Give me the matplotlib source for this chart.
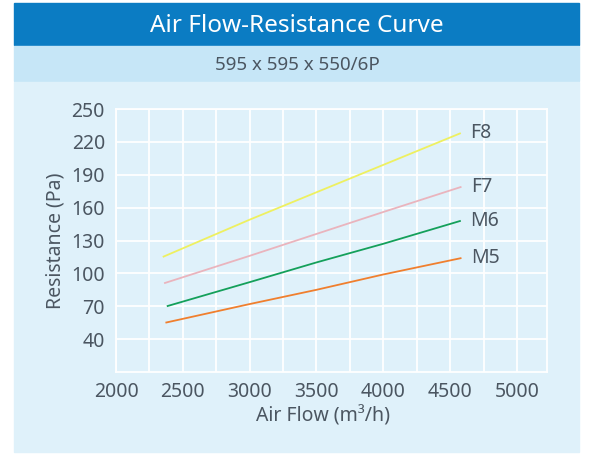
import matplotlib.pyplot as plt
from matplotlib.patches import Rectangle

plt.rcParams['font.family'] = ['Noto Sans', 'DejaVu Sans']

title = 'Air Flow-Resistance Curve'
subtitle = '595 x 595 x 550/6P'

f8_x = [2350, 3000, 3500, 4000, 4580]
f8_y = [115, 149, 174, 199, 228]
f7_x = [2360, 3000, 3500, 4000, 4585]
f7_y = [91, 116, 136, 156, 179]
m6_x = [2380, 3000, 3500, 4000, 4580]
m6_y = [70, 92, 110, 127, 148]
m5_x = [2370, 3000, 3500, 4000, 4585]
m5_y = [55, 72, 85, 99, 114]

series = [
    ('F8', f8_x, f8_y, '#eef060'),
    ('F7', f7_x, f7_y, '#eab4bd'),
    ('M6', m6_x, m6_y, '#14a05a'),
    ('M5', m5_x, m5_y, '#f07f2e'),
]

x_ticks = [2000, 2500, 3000, 3500, 4000, 4500, 5000]
y_ticks = [40, 70, 100, 130, 160, 190, 220, 250]

text_col = '#4b5661'

fig = plt.figure(figsize=(5.98, 4.57), dpi=100)
W, H = 598, 457

def band(y0, y1, color):
    fig.patches.append(Rectangle((14 / W, 1 - y1 / H), (579 - 14) / W, (y1 - y0) / H,
                                 transform=fig.transFigure, color=color, zorder=-5))

band(3, 44.5, '#0b7cc3')
band(46, 80.5, '#c6e6f7')
band(82, 452, '#dff1fa')

fig.text(297 / W, 1 - 25.5 / H, title, ha='center', va='center', color='white', fontsize=17.5)
fig.text(297 / W, 1 - 65 / H, subtitle, ha='center', va='center', color=text_col, fontsize=13.5)

ax = fig.add_axes([116 / W, 1 - 372 / H, (547 - 116) / W, (372 - 109) / H])
ax.set_zorder(5)
ax.patch.set_alpha(0)

for name, xs, ys, col in series:
    ax.plot(xs, ys, color=col, lw=1.3, solid_capstyle='butt', zorder=3)
    ax.annotate(name, (xs[-1], ys[-1]), xytext=(7, 0), textcoords='offset points',
                va='center', ha='left', color=text_col, fontsize=14)

ax.set_xlim(2000, 5225)
ax.set_ylim(10, 250)
ax.set_xticks(x_ticks)
ax.set_xticks([2250, 2750, 3250, 3750, 4250, 4750], minor=True)
ax.set_yticks(y_ticks)
ax.grid(True, which='both', color='white', lw=1.3, zorder=1)
ax.set_axisbelow(True)
ax.tick_params(which='both', length=0, labelsize=14, colors=text_col)
ax.tick_params(axis='y', pad=8)
ax.tick_params(axis='x', pad=7)
for s in ax.spines.values():
    s.set_color('white')
    s.set_linewidth(1.3)

ax.set_xlabel('Air Flow (m³/h)', fontsize=14, color=text_col)
ax.set_ylabel('Resistance (Pa)', fontsize=14, color=text_col)
ax.xaxis.set_label_coords((323 - 116) / (547 - 116), -(416 - 372) / (372 - 109))
ax.xaxis.label.set_va('center')
ax.yaxis.set_label_coords(-(116 - 55) / (547 - 116), 0.5)
ax.yaxis.label.set_va('center')

fig.savefig('out.png', dpi=100)
